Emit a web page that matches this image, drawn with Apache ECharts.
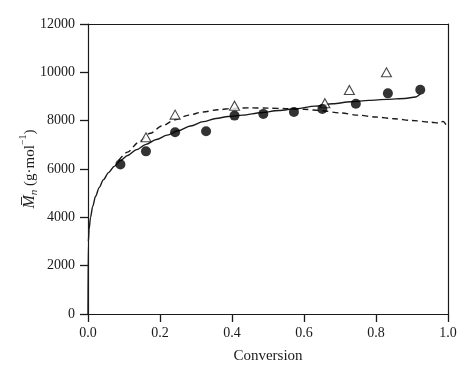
<!DOCTYPE html>
<html>
<head>
<meta charset="utf-8">
<script src="https://cdn.jsdelivr.net/npm/echarts@6/dist/echarts.min.js"></script>
<style>
html,body{margin:0;padding:0;background:#fff;}
#chart{width:474px;height:384px;}
</style>
</head>
<body>
<div id="chart"></div>
<script>
// Experimental data: filled circles
var circleX = [0.090, 0.161, 0.242, 0.328, 0.407, 0.487, 0.572, 0.651, 0.744, 0.833, 0.923];
var circleY = [6190, 6730, 7520, 7560, 8210, 8280, 8360, 8480, 8700, 9130, 9280];
// Experimental data: open triangles
var triX = [0.161, 0.242, 0.407, 0.658, 0.726, 0.829];
var triY = [7310, 8250, 8620, 8720, 9270, 10000];
// Model curve (solid)
var solidX = [0, 0.001, 0.003, 0.007, 0.013, 0.021, 0.031, 0.043, 0.057, 0.073, 0.090, 0.110, 0.135, 0.161, 0.190, 0.220, 0.250, 0.285, 0.320, 0.355, 0.390, 0.430, 0.480, 0.530, 0.580, 0.630, 0.680, 0.730, 0.780, 0.830, 0.880, 0.910, 0.923];
var solidY = [0, 3000, 3500, 4000, 4450, 4870, 5230, 5560, 5850, 6110, 6350, 6560, 6800, 7020, 7220, 7400, 7580, 7780, 7960, 8090, 8170, 8230, 8330, 8420, 8500, 8600, 8700, 8780, 8840, 8880, 8920, 8980, 9100];
// Model curve (dashed)
var dashX = [0.085, 0.110, 0.140, 0.173, 0.205, 0.242, 0.280, 0.320, 0.360, 0.404, 0.450, 0.500, 0.550, 0.600, 0.650, 0.700, 0.750, 0.800, 0.850, 0.900, 0.950, 0.977, 0.986, 1.000];
var dashY = [6350, 6700, 7100, 7480, 7780, 8040, 8230, 8360, 8450, 8510, 8530, 8520, 8500, 8470, 8410, 8320, 8230, 8150, 8080, 8010, 7940, 7900, 7970, 7700];
// Axis ticks
var xTicks = {min: 0, max: 1, interval: 0.2};
var yTicks = {min: 0, max: 12000, interval: 2000};

function zip(a, b) { return a.map(function (v, i) { return [v, b[i]]; }); }

var chart = echarts.init(document.getElementById('chart'));
var ink = '#1a1a1a';
var serif = 'Liberation Serif';
function boxAxis(extra) {
  return Object.assign({
    type: 'value',
    axisLine: {show: true, onZero: false, lineStyle: {color: ink, width: 1.2}},
    axisTick: {show: false}, axisLabel: {show: false}, splitLine: {show: false}
  }, extra);
}
chart.setOption({
  animation: false,
  backgroundColor: '#fff',
  grid: {left: 88, right: 26, top: 24, bottom: 70, outerBoundsMode: 'none', containLabel: false, show: false},
  xAxis: [{
    type: 'value', min: xTicks.min, max: xTicks.max, interval: xTicks.interval, position: 'bottom',
    name: 'Conversion', nameLocation: 'middle', nameGap: 35, nameMoveOverlap: false,
    nameTextStyle: {fontFamily: serif, fontSize: 15, color: ink},
    axisLine: {show: true, onZero: false, lineStyle: {color: ink, width: 1.2}},
    axisTick: {show: true, length: 8, lineStyle: {color: ink, width: 1.3}},
    axisLabel: {fontFamily: serif, fontSize: 14, color: ink, margin: 12,
      formatter: function (v) { return v.toFixed(1); }},
    splitLine: {show: false}
  }, boxAxis({min: xTicks.min, max: xTicks.max, position: 'top'})],
  yAxis: [{
    type: 'value', min: yTicks.min, max: yTicks.max, interval: yTicks.interval, position: 'left',
    name: '{m|M\u0305}{sub|n}{t| (g\u00b7mol}{sup|\u22121}{t|)}', nameLocation: 'middle', nameGap: 50, nameRotate: 90,
    nameMoveOverlap: false,
    nameTextStyle: {fontFamily: serif, fontSize: 15, color: ink,
      rich: {
        m: {fontFamily: serif, fontSize: 16, fontStyle: 'italic', color: ink, lineHeight: 22, verticalAlign: 'bottom'},
        sub: {fontFamily: serif, fontSize: 11, fontStyle: 'italic', color: ink, lineHeight: 22, verticalAlign: 'bottom', padding: [0, 0, -2, 0]},
        t: {fontFamily: serif, fontSize: 15, color: ink, lineHeight: 22, verticalAlign: 'bottom'},
        sup: {fontFamily: serif, fontSize: 10, color: ink, lineHeight: 22, verticalAlign: 'top', padding: [2, 0, 0, 0]}
      }},
    axisLine: {show: true, onZero: false, lineStyle: {color: ink, width: 1.2}},
    axisTick: {show: true, length: 8, lineStyle: {color: ink, width: 1.3}},
    axisLabel: {fontFamily: serif, fontSize: 14, color: ink, margin: 13,
      formatter: function (v) { return String(v); }},
    splitLine: {show: false}
  }, boxAxis({min: yTicks.min, max: yTicks.max, position: 'right'})],
  series: [
    {type: 'line', data: zip(solidX, solidY), showSymbol: false, smooth: 0.3, smoothMonotone: 'x',
      lineStyle: {color: ink, width: 1.4}, z: 2},
    {type: 'line', data: zip(dashX, dashY), showSymbol: false, smooth: 0.3, smoothMonotone: 'x',
      lineStyle: {color: ink, width: 1.4, type: [6, 4]}, z: 2},
    {type: 'scatter', data: zip(circleX, circleY), symbol: 'circle', symbolSize: 10,
      itemStyle: {color: '#000'}, z: 4},
    {type: 'scatter', data: zip(triX, triY), symbol: 'triangle', symbolSize: [10, 9],
      itemStyle: {color: '#fff', borderColor: ink, borderWidth: 1.1}, z: 3}
  ]
});
</script>
</body>
</html>
